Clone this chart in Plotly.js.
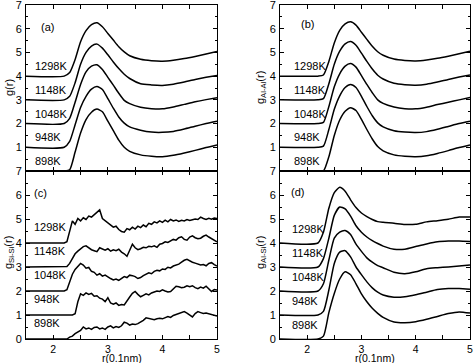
<!DOCTYPE html>
<html>
<head>
<meta charset="utf-8">
<script src="https://cdn.plot.ly/plotly-3.0.1.min.js"></script>
<style>html,body{margin:0;padding:0;background:#fff;}#plot{width:474px;height:363px;}</style>
</head>
<body>
<div id="plot"></div>
<script>
// ---- data ----
var temps = ['898K', '948K', '1048K', '1148K', '1298K'];
var offsets = [0, 1, 2, 3, 4];

// grid for smooth curves (panels a, b, d)
var rS = [1.5, 2.2, 2.3, 2.4, 2.5, 2.6, 2.7, 2.8, 2.9, 3.0, 3.1, 3.2, 3.3, 3.4, 3.6, 3.8, 4.0, 4.2, 4.4, 4.6, 4.8, 5.0];

// (a) total g(r)
var gA_898  = [0, 0, 0.05, 0.8, 1.6, 2.17, 2.48, 2.61, 2.5, 2.1, 1.7, 1.3, 1.0, 0.83, 0.68, 0.62, 0.6, 0.66, 0.76, 0.87, 0.99, 1.1];
var gA_948  = [0, 0, 0.25, 0.95, 1.68, 2.15, 2.45, 2.56, 2.44, 2.05, 1.65, 1.28, 1.02, 0.86, 0.72, 0.64, 0.63, 0.67, 0.77, 0.89, 1.0, 1.1];
var gA_1048 = [0, 0, 0.22, 0.9, 1.65, 2.18, 2.42, 2.48, 2.28, 1.95, 1.62, 1.28, 0.98, 0.84, 0.69, 0.63, 0.62, 0.7, 0.81, 0.92, 1.01, 1.09];
var gA_1148 = [0, 0, 0.15, 0.72, 1.5, 2.0, 2.27, 2.35, 2.18, 1.9, 1.6, 1.32, 1.08, 0.9, 0.68, 0.63, 0.61, 0.66, 0.75, 0.86, 0.95, 1.03];
var gA_1298 = [0, 0, 0.15, 0.7, 1.45, 1.92, 2.17, 2.25, 2.08, 1.8, 1.52, 1.24, 1.02, 0.86, 0.71, 0.65, 0.63, 0.67, 0.74, 0.83, 0.93, 1.04];

// (b) Al-Al
var gB_898  = [0, 0, 0, 0.6, 1.5, 2.15, 2.52, 2.67, 2.55, 2.18, 1.75, 1.35, 1.03, 0.85, 0.68, 0.62, 0.6, 0.64, 0.74, 0.86, 0.99, 1.1];
var gB_948  = [0, 0, 0.05, 0.75, 1.6, 2.17, 2.52, 2.65, 2.52, 2.15, 1.72, 1.33, 1.03, 0.86, 0.7, 0.64, 0.62, 0.66, 0.76, 0.88, 1.0, 1.1];
var gB_1048 = [0, 0, 0.05, 0.72, 1.55, 2.1, 2.42, 2.53, 2.38, 2.02, 1.65, 1.3, 1.0, 0.85, 0.7, 0.63, 0.62, 0.69, 0.8, 0.9, 1.0, 1.1];
var gB_1148 = [0, 0, 0.05, 0.68, 1.5, 2.05, 2.36, 2.46, 2.3, 1.97, 1.62, 1.3, 1.04, 0.88, 0.7, 0.64, 0.62, 0.66, 0.75, 0.86, 0.96, 1.05];
var gB_1298 = [0, 0, 0.05, 0.62, 1.4, 1.93, 2.2, 2.29, 2.15, 1.85, 1.55, 1.26, 1.03, 0.88, 0.72, 0.66, 0.64, 0.68, 0.75, 0.84, 0.94, 1.05];

// (d) Al-Si
var gD_898  = [0, 0, 0.12, 1.1, 1.9, 2.5, 2.8, 2.68, 2.3, 1.88, 1.55, 1.28, 1.07, 0.9, 0.71, 0.68, 0.72, 0.82, 0.94, 1.06, 1.13, 1.08];
var gD_948  = [0, 0, 0.15, 1.04, 2.15, 2.62, 2.68, 2.42, 2.0, 1.68, 1.38, 1.13, 0.95, 0.83, 0.74, 0.76, 0.84, 0.95, 1.06, 1.1, 1.1, 1.07];
var gD_1048 = [0, 0, 0.3, 1.29, 2.2, 2.45, 2.52, 2.35, 1.95, 1.65, 1.38, 1.2, 1.06, 0.97, 0.78, 0.72, 0.8, 0.93, 0.97, 1.0, 1.04, 1.08];
var gD_1148 = [0, 0, 0.35, 1.2, 2.15, 2.5, 2.42, 2.12, 1.72, 1.45, 1.25, 1.1, 0.98, 0.87, 0.74, 0.74, 0.85, 0.96, 1.05, 1.08, 1.08, 1.06];
var gD_1298 = [0, 0, 0.45, 1.45, 2.1, 2.32, 2.16, 1.8, 1.48, 1.25, 1.1, 0.98, 0.89, 0.86, 0.82, 0.77, 0.78, 0.88, 0.93, 0.99, 1.08, 1.08];

// (c) Si-Si, finer grid
var rC = [1.5,
  2.2, 2.25, 2.3, 2.35, 2.4, 2.45, 2.5, 2.55, 2.6, 2.65,
  2.7, 2.75, 2.8, 2.85, 2.9, 2.95, 3.0, 3.05, 3.1, 3.15,
  3.2, 3.25, 3.3, 3.35, 3.4, 3.45, 3.5, 3.55, 3.6, 3.65,
  3.7, 3.75, 3.8, 3.85, 3.9, 3.95, 4.0, 4.05, 4.1, 4.15,
  4.2, 4.25, 4.3, 4.35, 4.4, 4.45, 4.5, 4.55, 4.6, 4.65,
  4.7, 4.75, 4.8, 4.85, 4.9, 4.95, 5.0];
var gC_898 = [0,
  0, 0, 0.08, 0.12, 0.22, 0.3, 0.36, 0.5, 0.42, 0.46,
  0.4, 0.48, 0.5, 0.42, 0.46, 0.4, 0.5, 0.55, 0.46, 0.52,
  0.48, 0.55, 0.7, 0.66, 0.58, 0.62, 0.6, 0.64, 0.7, 0.78,
  0.88, 0.86, 0.84, 0.8, 0.84, 0.86, 0.84, 0.9, 0.94, 0.9,
  0.98, 1.02, 1.05, 1.1, 1.14, 1.08, 1.0, 0.92, 1.06, 1.14,
  1.1, 1.06, 1.08, 1.05, 1.02, 0.98, 0.96];
var gC_948 = [0,
  0, 0, 0, 0, 0.05, 0.55, 0.88, 0.82, 0.92, 0.86,
  0.9, 0.78, 0.8, 0.7, 0.66, 0.56, 0.72, 0.5, 0.45, 0.5,
  0.4, 0.44, 0.42, 0.6, 0.75, 0.9, 0.98, 0.86, 0.76, 0.82,
  0.88, 0.84, 0.92, 0.96, 1.0, 0.98, 1.05, 1.0, 0.96, 0.98,
  1.08, 1.2, 1.18, 1.14, 1.16, 1.22, 1.18, 1.22, 1.14, 1.1,
  1.16, 1.12, 1.2, 1.1, 0.98, 1.06, 1.04];
var gC_1048 = [0,
  0, 0.05, 0.35, 0.7, 0.9, 1.05, 1.15, 1.08, 0.95, 0.98,
  0.82, 0.78, 0.66, 0.72, 0.62, 0.66, 0.58, 0.52, 0.46, 0.5,
  0.44, 0.54, 0.6, 0.56, 0.66, 0.64, 0.6, 0.52, 0.56, 0.64,
  0.7, 0.76, 0.72, 0.82, 0.86, 0.84, 0.92, 0.9, 0.99, 0.96,
  1.04, 1.08, 1.12, 1.2, 1.28, 1.32, 1.25, 1.2, 1.16, 1.12,
  1.08, 1.1, 1.05, 1.15, 1.18, 1.1, 1.04];
var gC_1148 = [0,
  0, 0.02, 0.15, 0.35, 0.55, 0.66, 0.74, 0.85, 0.88, 0.78,
  0.72, 0.68, 0.64, 0.8, 0.75, 0.7, 0.76, 0.66, 0.72, 0.68,
  0.74, 0.62, 0.55, 0.45, 0.7, 0.95, 0.8, 0.72, 0.76, 0.82,
  0.8, 0.86, 0.84, 0.88, 0.82, 0.95, 0.98, 1.05, 1.02, 1.1,
  1.15, 1.12, 1.22, 1.26, 1.15, 1.12, 1.25, 1.3, 1.22, 1.18,
  1.2, 1.28, 1.33, 1.25, 1.18, 1.12, 1.05];
var gC_1298 = [0,
  0, 0.05, 0.55, 0.92, 0.78, 1.02, 0.92, 1.05, 0.98, 1.12,
  1.08, 1.18, 1.3, 1.38, 1.02, 0.92, 0.85, 0.72, 0.66, 0.7,
  0.56, 0.48, 0.45, 0.6, 0.55, 0.66, 0.58, 0.7, 0.64, 0.75,
  0.68, 0.82, 0.78, 0.88, 0.84, 0.92, 0.86, 0.95, 0.88, 0.98,
  0.92, 0.96, 0.9, 0.95, 0.92, 0.98, 0.94, 0.97, 1.0, 0.98,
  1.08, 1.02, 0.98, 1.03, 0.99, 1.04, 1.02];

var yTickVals = [0, 1, 2, 3, 4, 5, 6, 7];
var xTickVals = [2, 3, 4, 5];
var xTitle = 'r(0.1nm)';

// ---- build ----
var panels = [
  {x: rS, ys: [gA_898, gA_948, gA_1048, gA_1148, gA_1298], xa: 'x',  ya: 'y',  shape: 'spline', letter: '(a)', lx: 1.9, ly: 6.09, tx: 1.63, lift: 0.42, title: 'g(r)'},
  {x: rS, ys: [gB_898, gB_948, gB_1048, gB_1148, gB_1298], xa: 'x2', ya: 'y2', shape: 'spline', letter: '(b)', lx: 2.0, ly: 6.22, tx: 1.72, lift: 0.42, title: 'g<sub>Al-Al</sub>(r)'},
  {x: rC, ys: [gC_898, gC_948, gC_1048, gC_1148, gC_1298], xa: 'x3', ya: 'y3', shape: 'linear', letter: '(c)', lx: 1.77, ly: 6.07, tx: 1.61, lift: 0.68, title: 'g<sub>Si-Si</sub>(r)'},
  {x: rS, ys: [gD_898, gD_948, gD_1048, gD_1148, gD_1298], xa: 'x4', ya: 'y4', shape: 'spline', letter: '(d)', lx: 1.83, ly: 6.11, tx: 1.69, lift: 0.58, title: 'g<sub>Al-Si</sub>(r)'}
];

var traces = [];
var annotations = [];
var FONT = 'Liberation Sans, Arial, sans-serif';
panels.forEach(function (p) {
  p.ys.forEach(function (g, i) {
    traces.push({
      x: p.x,
      y: g.map(function (v) { return v + offsets[i]; }),
      xaxis: p.xa, yaxis: p.ya,
      mode: 'lines',
      line: {color: '#000', width: 1.5, shape: p.shape, smoothing: 0.6},
      hoverinfo: 'skip', showlegend: false
    });
    annotations.push({
      xref: p.xa, yref: p.ya, x: p.tx, y: offsets[i] + p.lift,
      text: temps[i], showarrow: false, xanchor: 'left', yanchor: 'middle',
      font: {family: FONT, size: 11, color: '#000'}
    });
  });
  annotations.push({
    xref: p.xa, yref: p.ya, x: p.lx, y: p.ly, text: p.letter, showarrow: false,
    xanchor: 'center', yanchor: 'middle', font: {family: FONT, size: 11, color: '#000'}
  });
});

// y-axis titles (rotated), paper coords
var yTitlePos = [
  {x: 9 / 474, y: 1 - 88 / 363, t: panels[0].title},
  {x: 261 / 474, y: 1 - 88 / 363, t: panels[1].title},
  {x: 9 / 474, y: 1 - 253 / 363, t: panels[2].title},
  {x: 261 / 474, y: 1 - 253 / 363, t: panels[3].title}
];
yTitlePos.forEach(function (q) {
  annotations.push({xref: 'paper', yref: 'paper', x: q.x, y: q.y, text: q.t, textangle: -90,
    showarrow: false, xanchor: 'center', yanchor: 'middle', font: {family: FONT, size: 11, color: '#000'}});
});
// x-axis titles under the bottom panels
[{xa: 'x3', c: 3.25}, {xa: 'x4', c: 3.25}].forEach(function (q) {
  annotations.push({xref: q.xa, yref: 'paper', x: q.c, y: 1 - 357.5 / 363, text: xTitle, showarrow: false,
    xanchor: 'center', yanchor: 'middle', font: {family: FONT, size: 10.5, color: '#000'}});
});

function xAx(domain, anchor, showLabels) {
  return {
    domain: domain, anchor: anchor, range: [1.5, 5], showgrid: false, zeroline: false,
    showline: true, linecolor: '#000', linewidth: 1, mirror: 'ticks',
    ticks: 'inside', ticklen: 4, tickwidth: 1, tickcolor: '#000',
    tickmode: 'array', tickvals: xTickVals, showticklabels: showLabels,
    minor: {dtick: 0.5, ticks: 'inside', ticklen: 4, tickwidth: 1, tickcolor: '#000', showgrid: false},
    tickfont: {family: FONT, size: 10.5, color: '#000'}, ticklabelstandoff: 0
  };
}
function yAx(domain, anchor, vals) {
  return {
    domain: domain, anchor: anchor, range: [0, 7], showgrid: false, zeroline: false,
    showline: true, linecolor: '#000', linewidth: 1, mirror: 'ticks',
    ticks: 'inside', ticklen: 4, tickwidth: 1, tickcolor: '#000',
    tickmode: 'array', tickvals: vals, ticklabeloverflow: 'allow',
    minor: {dtick: 0.5, ticks: 'inside', ticklen: 2, tickwidth: 1, tickcolor: '#000', showgrid: false},
    tickfont: {family: FONT, size: 11, color: '#000'}, ticklabelstandoff: 1
  };
}

var dxL = [26 / 474, 217 / 474], dxR = [280 / 474, 470 / 474];
var dyT = [1 - 171 / 363, 1 - 5 / 363], dyB = [1 - 339 / 363, 1 - 171 / 363];

var layout = {
  width: 474, height: 363,
  margin: {l: 0, r: 0, t: 0, b: 0},
  paper_bgcolor: '#fff', plot_bgcolor: 'rgba(0,0,0,0)',
  showlegend: false,
  xaxis: xAx(dxL, 'y', false),
  yaxis: yAx(dyT, 'x', [1, 2, 3, 4, 5, 6, 7]),
  xaxis2: xAx(dxR, 'y2', false),
  yaxis2: yAx(dyT, 'x2', [1, 2, 3, 4, 5, 6, 7]),
  xaxis3: xAx(dxL, 'y3', true),
  yaxis3: yAx(dyB, 'x3', yTickVals),
  xaxis4: xAx(dxR, 'y4', true),
  yaxis4: yAx(dyB, 'x4', yTickVals),
  annotations: annotations
};

Plotly.newPlot('plot', traces, layout, {staticPlot: true, displayModeBar: false});
</script>
</body>
</html>
